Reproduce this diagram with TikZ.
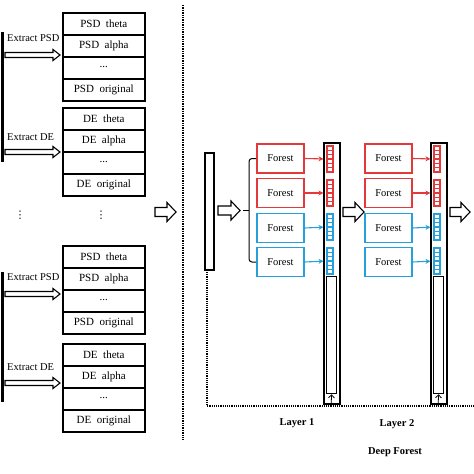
\documentclass[tikz,border=0pt]{standalone}
\usepackage{fontspec}
\setmainfont{Liberation Serif}
\newfontfamily\symfont{DejaVu Sans}
\usetikzlibrary{arrows.meta,calc}
\definecolor{myred}{RGB}{226,58,58}
\definecolor{myblue}{RGB}{38,160,218}
\newcommand\hollowarr[6]{% x1, x2, y, shaft half, head half, head length
  \draw[line width=1.1pt, fill=white, line join=miter]
    (#1,#3-#4) -- (#2-#6,#3-#4) -- (#2-#6,#3-#5) -- (#2,#3) -- (#2-#6,#3+#5) -- (#2-#6,#3+#4) -- (#1,#3+#4) -- cycle;}
\newcommand\mktable[3]{% prefix, top, word
  \node[cell] (#1a) at (62,#2) {#3\ \ theta};
  \node[cell] (#1b) at (62,#2+22) {#3\ \ alpha};
  \node[cell] (#1c) at (62,#2+44) {\raisebox{2pt}{...}};
  \node[cell] (#1d) at (62,#2+66) {#3\ \ original};}
\newcommand\mkstack[4]{% name, x centre, y centre, colour
  \node[draw=#4, line width=1.1pt, fill=white, minimum width=6pt, minimum height=26pt, inner sep=0pt] (#1) at (#2,#3) {};
  \foreach \k in {1,...,5} \draw[#4, line width=1.1pt] (#2-3,#3-13+\k*4.333) -- (#2+3,#3-13+\k*4.333);}
\begin{document}
\begin{tikzpicture}[x=1pt,y=-1pt, font=\fontsize{10.5}{12}\selectfont,
  cell/.style={draw, line width=1.6pt, minimum width=82pt, minimum height=22pt, inner sep=0pt, anchor=north west, font=\fontsize{11}{12}\selectfont},
  forestbox/.style={draw, line width=1.6pt, fill=white, minimum width=47pt, minimum height=29pt, inner sep=0pt},
  redf/.style={forestbox, draw=myred},
  bluef/.style={forestbox, draw=myblue},
  sidebar/.style={fill=black, minimum width=3pt, inner sep=0pt, anchor=north west},
  colbox/.style={draw, line width=1.6pt, minimum width=16pt, minimum height=261pt, inner sep=0pt, anchor=north west},
  innerbox/.style={draw, line width=1.3pt, minimum width=10pt, minimum height=117pt, inner sep=0pt, anchor=north west},
  redarr/.style={-{Stealth[length=5pt,width=5pt]}, myred, line width=1.1pt, shorten >=3pt},
  bluearr/.style={-{Stealth[length=5pt,width=5pt]}, myblue, line width=1.1pt, shorten >=3pt},
  feedback/.style={densely dotted, line width=1.2pt},
  uparr/.style={-{Straight Barb[length=3pt,width=6pt]}, line width=0.8pt},
  lbl/.style={font=\fontsize{10.5}{12}\selectfont\bfseries}]
\useasboundingbox (0,0) rectangle (474,474);

% ---------- left part ----------
\node[sidebar, minimum height=130pt] (bar1) at (1,32) {};
\node[sidebar, minimum height=130pt] (bar2) at (1,272) {};

\mktable{ta}{12}{PSD}
\mktable{tb}{107}{DE}
\mktable{tc}{245}{PSD}
\mktable{td}{343}{DE}

\node[anchor=west, inner sep=0pt] (ex1) at (7,38) {Extract PSD};
\node[anchor=west, inner sep=0pt] (ex2) at (7,137) {Extract DE};
\node[anchor=west, inner sep=0pt] (ex3) at (7,277) {Extract PSD};
\node[anchor=west, inner sep=0pt] (ex4) at (7,367) {Extract DE};

\hollowarr{5}{60}{55}{2.5}{5.5}{7}
\hollowarr{5}{60}{152}{2.5}{5.5}{7}
\hollowarr{5}{60}{294}{2.5}{5.5}{7}
\hollowarr{5}{60}{383}{2.5}{5.5}{7}

\node[inner sep=0pt] (vd1) at (20,215) {\symfont ⋮};
\node[inner sep=0pt] (vd2) at (101,215) {\symfont ⋮};

\hollowarr{155}{176}{212}{4.5}{9.5}{9}

\coordinate (sepT) at (183,5);
\coordinate (sepB) at (183,440);
\draw[feedback, line width=1.4pt] (sepT) -- (sepB);

% ---------- deep forest ----------
\node[draw, line width=1.6pt, minimum width=9pt, minimum height=117pt, inner sep=0pt, anchor=north west] (inbar) at (204,152) {};
\hollowarr{218}{240}{210.5}{4.5}{9.5}{9}

% layer 1
\node[redf]  (f11) at (280.5,158.5) {Forest};
\node[redf]  (f12) at (280.5,193) {Forest};
\node[bluef] (f13) at (280.5,228) {Forest};
\node[bluef] (f14) at (280.5,262) {Forest};
\draw[line width=1pt, rounded corners=3pt] (f11.west) -- (249,158.5) -- (249,262) -- (f14.west);
\draw[line width=1pt] (249,210.5) -- (243,210.5);

\node[colbox] (c1) at (323,142) {};
\node[innerbox] (ci1) at (326,276) {};
\mkstack{s11}{330}{159}{myred}
\mkstack{s12}{330}{193}{myred}
\mkstack{s13}{330}{227}{myblue}
\mkstack{s14}{330}{261}{myblue}
\draw[redarr]  (f11.east) -- (s11.west);
\draw[redarr]  (f12.east) -- (s12.west);
\draw[bluearr] (f13.east) -- (s13.west);
\draw[bluearr] (f14.east) -- (s14.west);

\hollowarr{343}{364}{212}{4.5}{9.5}{9}

% layer 2
\node[redf]  (f21) at (388.5,158.5) {Forest};
\node[redf]  (f22) at (388.5,193) {Forest};
\node[bluef] (f23) at (388.5,228) {Forest};
\node[bluef] (f24) at (388.5,262) {Forest};

\node[colbox] (c2) at (430,142) {};
\node[innerbox] (ci2) at (433,276) {};
\mkstack{s21}{437}{159}{myred}
\mkstack{s22}{437}{193}{myred}
\mkstack{s23}{437}{227}{myblue}
\mkstack{s24}{437}{261}{myblue}
\draw[redarr]  (f21.east) -- (s21.west);
\draw[redarr]  (f22.east) -- (s22.west);
\draw[bluearr] (f23.east) -- (s23.west);
\draw[bluearr] (f24.east) -- (s24.west);

\hollowarr{450}{470}{212}{4.5}{9.5}{9}

% feedback dotted line
\coordinate (d0) at (207,272);
\coordinate (d1) at (207,406);
\coordinate (d2) at (474,406);
\draw[feedback] (d0) -- (d1) -- (d2);
\coordinate (u1) at (331,406);
\coordinate (u2) at (438,406);
\draw[uparr] (u1) -- (ci1.south);
\draw[uparr] (u2) -- (ci2.south);

\node[lbl] (l1) at (297,423) {Layer 1};
\node[lbl] (l2) at (397,424) {Layer 2};
\node[lbl] (df) at (395,452) {Deep Forest};
\end{tikzpicture}
\end{document}
